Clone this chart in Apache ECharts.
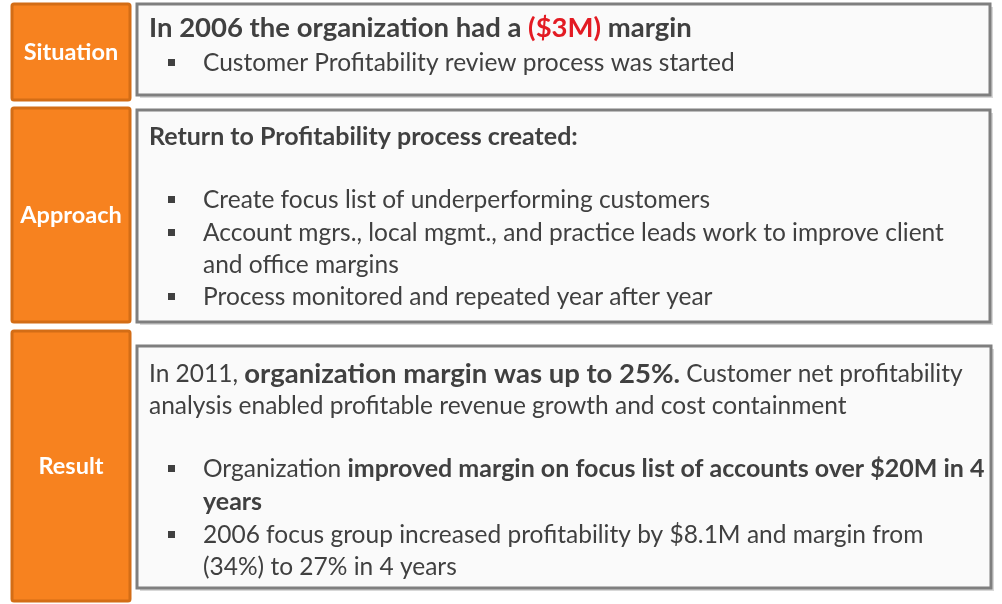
<!DOCTYPE html><html><head><meta charset="utf-8">
<script src="https://cdn.jsdelivr.net/npm/echarts@6/dist/echarts.min.js"></script>
<style>html,body{margin:0;padding:0;background:#fff}#c{width:1002px;height:604px}</style></head><body><div id="c"></div>
<script>
const sectionLabels = ['Situation', 'Approach', 'Result'];
// each line: [isBullet, segments[[text, style]]]
const situationLines = [
  [false, [['In 2006 the organization had a ', 'h'], ['($3M)', 'hr'], [' margin', 'h']]],
  [true, [['Customer Profitability review process was started', 'n']]]
];
const approachLines = [
  [false, [['Return to Profitability process created:', 'b']]],
  [true, [['Create focus list of underperforming customers', 'n']]],
  [true, [['Account mgrs., local mgmt., and practice leads work to improve client', 'n']]],
  [null, [['and office margins', 'n']]],
  [true, [['Process monitored and repeated year after year', 'n']]]
];
const resultLines = [
  [false, [['In 2011, ', 'n'], ['organization margin was up to 25%.', 'hb'], [' Customer net profitability', 'n']]],
  [false, [['analysis enabled profitable revenue growth and cost containment', 'n']]],
  [true, [['Organization ', 'n'], ['improved margin on focus list of accounts over $20M in 4', 'b']]],
  [null, [['years', 'b']]],
  [true, [['2006 focus group increased profitability by $8.1M and margin from', 'n']]],
  [null, [['(34%) to 27% in 4 years', 'n']]]
];
const lineY = [[28, 63], [137, 200, 233, 265, 297], [374, 406, 469, 502, 535, 567]];

const F = 'Lato, "Open Sans", sans-serif';
const rich = {
  h: {fontSize: 27.5, fontWeight: 'bold', fill: '#404040', fontFamily: F},
  hr: {fontSize: 27.5, fontWeight: 'bold', fill: '#e31b23', fontFamily: F},
  hb: {fontSize: 27.5, fontWeight: 'bold', fill: '#404040', fontFamily: F},
  b: {fontSize: 25, fontWeight: 'bold', fill: '#404040', fontFamily: F},
  n: {fontSize: 24.5, fill: '#404040', fontFamily: F}
};
const leftBoxes = [[12, 4, 118, 96], [12, 108, 118, 214], [12, 331, 118, 270]];
const rightBoxes = [[137, 4, 853, 91], [137, 110, 853, 212], [137, 346, 854, 242]];
const allLines = [situationLines, approachLines, resultLines];
const g = [];
sectionLabels.forEach((lab, i) => {
  const [x, y, w, h] = leftBoxes[i];
  g.push({type: 'rect', shape: {x, y, width: w, height: h, r: 2},
    style: {fill: '#f7821f', stroke: '#d36d16', lineWidth: 3}});
  g.push({type: 'text', x: x + w / 2, y: y + h / 2, style: {text: lab, fill: '#fff',
    font: 'bold 23.5px ' + F, textAlign: 'center', textVerticalAlign: 'middle'}});
  const [rx, ry, rw, rh] = rightBoxes[i];
  g.push({type: 'rect', shape: {x: rx + 3, y: ry + 3, width: rw, height: rh},
    style: {fill: '#d8d8d8'}});
  g.push({type: 'rect', shape: {x: rx, y: ry, width: rw, height: rh},
    style: {fill: '#fafafa', stroke: '#7f7f7f', lineWidth: 3}});
  allLines[i].forEach((ln, j) => {
    const [bul, segs] = ln;
    const yy = lineY[i][j];
    if (bul) g.push({type: 'rect', shape: {x: 168, y: yy - 4, width: 7, height: 7}, style: {fill: '#404040'}});
    const tx = (bul === false) ? 149 : 203;
    g.push({type: 'text', x: tx, y: yy, style: {
      text: segs.map(s => '{' + s[1] + '|' + s[0] + '}').join(''),
      rich, textVerticalAlign: 'middle'}});
  });
});
const chart = echarts.init(document.getElementById('c'));
chart.setOption({animation: false, graphic: g});
</script></body></html>
